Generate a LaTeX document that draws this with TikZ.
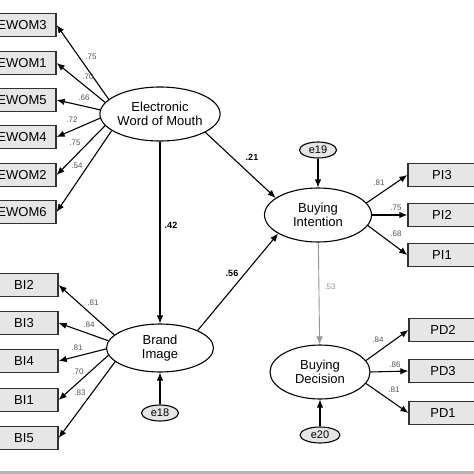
\documentclass[tikz,border=0pt]{standalone}
\usepackage{fontspec}
\setmainfont{Liberation Sans}
\usetikzlibrary{arrows.meta,shapes.geometric}
\definecolor{boxgray}{RGB}{230,230,230}
\definecolor{boxedge}{RGB}{50,50,50}
\definecolor{labgray}{RGB}{85,85,85}
\definecolor{pathgray}{RGB}{150,150,150}
\tikzset{
  latent/.style ={ellipse,draw=black,line width=1.1pt,fill=white,inner sep=0pt,align=center,font=\fontsize{13}{14}\selectfont},
  errnode/.style={ellipse,draw=black,line width=1.1pt,fill=boxgray,inner sep=0pt,minimum width=37pt,minimum height=16pt,font=\fontsize{11}{12}\selectfont},
  obsbox/.style ={rectangle,draw=boxedge,line width=1.3pt,fill=boxgray,inner sep=0pt,minimum width=68pt,minimum height=23pt,font=\fontsize{13}{14}\selectfont},
  fgarr/.style  ={line width=1.1pt,-{Latex[length=8pt,width=6.5pt]}},
  ind/.style    ={fgarr,black},
  grarr/.style  ={fgarr,pathgray,line width=0.9pt},
  ldlab/.style  ={inner sep=0pt,text=labgray,font=\fontsize{8}{9}\selectfont},
  pthlab/.style ={inner sep=0pt,font=\bfseries\fontsize{9}{10}\selectfont},
}
\begin{document}
\begin{tikzpicture}[x=1pt,y=-1pt]
  \useasboundingbox (0,0) rectangle (474,474);
  % latent variables
  \node[latent,minimum width=114pt,minimum height=54pt] (EW) at (160,114) {Electronic\\Word of Mouth};
  \node[latent,minimum width=107pt,minimum height=48pt] (BIm) at (160,348) {Brand\\Image};
  \node[latent,minimum width=107pt,minimum height=54pt] (BInt) at (318,215) {Buying\\Intention};
  \node[latent,minimum width=100pt,minimum height=54pt] (BDec) at (320,372) {Buying\\Decision};
  % error terms
  \node[errnode] (e18) at (160,413) {e18};
  \node[errnode] (e19) at (318,150) {e19};
  \node[errnode,minimum width=40pt] (e20) at (320,435) {e20};
  % indicators
  \foreach \nm/\yy/\ang/\ld/\lx/\ly in {EWOM3/25/164/.75/91/57, EWOM1/63/168/.70/88/77,
      EWOM5/100/176/.66/84/98, EWOM4/137/184/.72/72/120, EWOM2/175/192/.75/75/143,
      EWOM6/212/199/.54/77/166}{
    \node[obsbox] (\nm) at (22,\yy) {\nm};
    \draw[ind] (EW.\ang) -- (\nm.east);
    \node[ldlab] (l\nm) at (\lx,\ly) {\ld};
  }
  \foreach \nm/\yy/\ang/\ld/\lx/\ly in {BI2/285/164/.81/93/303, BI3/323/172/.84/89/325,
      BI4/361/181/.81/77/348, BI1/400/188/.70/78/372, BI5/438/197/.83/80/393}{
    \node[obsbox] (\nm) at (24,\yy) {\nm};
    \draw[ind] (BIm.\ang) -- (\nm.east);
    \node[ldlab] (l\nm) at (\lx,\ly) {\ld};
  }
  \foreach \nm/\yy/\ang/\ld/\lx/\ly in {PI3/175/14/.81/379/183, PI2/215/0/.75/396/208,
      PI1/255/-12/.68/396/234}{
    \node[obsbox] (\nm) at (442,\yy) {\nm};
    \draw[ind] (BInt.\ang) -- (\nm.west);
    \node[ldlab] (l\nm) at (\lx,\ly) {\ld};
  }
  \foreach \nm/\yy/\ang/\ld/\lx/\ly in {PD2/330/14/.84/378/340, PD3/371/0/.86/395/365,
      PD1/413/-14/.81/394/390}{
    \node[obsbox] (\nm) at (443,\yy) {\nm};
    \draw[ind] (BDec.\ang) -- (\nm.west);
    \node[ldlab] (l\nm) at (\lx,\ly) {\ld};
  }
  % structural paths
  \draw[fgarr] (EW) -- (BIm);
  \draw[fgarr] (EW.-22) -- (BInt.158);
  \draw[fgarr] (BIm.25) -- (BInt.205);
  \draw[grarr] (BInt) -- (BDec);
  \draw[fgarr] (e18) -- (BIm);
  \draw[fgarr] (e19) -- (BInt);
  \draw[fgarr] (e20) -- (BDec);
  \node[pthlab] (p42) at (171,225) {.42};
  \node[pthlab] (p21) at (252,157) {.21};
  \node[pthlab] (p56) at (232,273) {.56};
  \node[ldlab,text=pathgray] (p53) at (330,287) {.53};
  % bottom rule
  \draw[pathgray!70,line width=3pt] (0,472) -- (474,472);
\end{tikzpicture}
\end{document}
